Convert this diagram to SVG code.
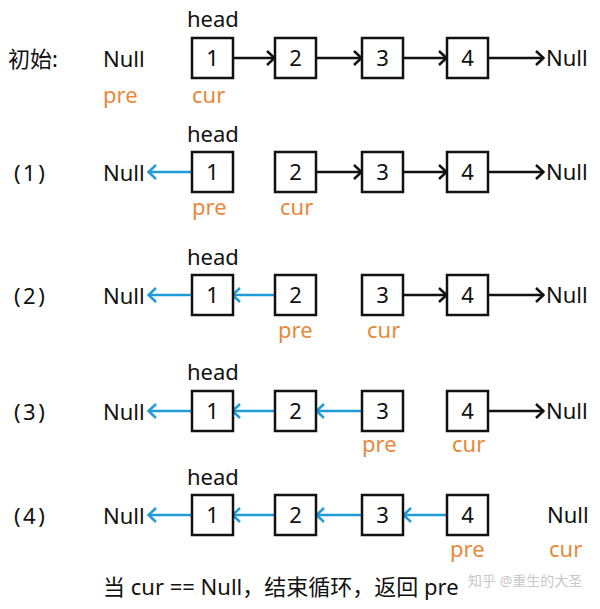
<svg xmlns="http://www.w3.org/2000/svg" width="600" height="609" viewBox="0 0 600 609">
<style>
text{font-family:"Noto Sans","Noto Sans CJK SC",sans-serif;font-size:22px;fill:#111}
.num{text-anchor:middle}
.or{fill:#E8883A}
.rl{letter-spacing:2.5px}
.box{fill:#fff;stroke:#111;stroke-width:2.5}
.k{stroke:#111;stroke-width:2.5;fill:none}
.b{stroke:#1F9BD7;stroke-width:2.5;fill:none}
.wm{fill:#c8c8c8;font-size:14px}
</style>
<defs>
<marker id="ak" viewBox="0 0 12 16" refX="11" refY="8" markerWidth="12" markerHeight="16" markerUnits="userSpaceOnUse" orient="auto"><path d="M3,1 L10.5,8 L3,15" fill="none" stroke="#111" stroke-width="2.5"/></marker>
<marker id="abl" viewBox="0 0 12 16" refX="11" refY="8" markerWidth="12" markerHeight="16" markerUnits="userSpaceOnUse" orient="auto"><path d="M3,1 L10.5,8 L3,15" fill="none" stroke="#1F9BD7" stroke-width="2.5"/></marker>
<rect id="bx" width="41" height="40" class="box"/>
</defs>
<rect width="600" height="609" fill="#fff"/>
<g id="labels">
<text x="8" y="67" font-size="23">初始:</text>
<text class="rl" x="14" y="181">(1)</text>
<text class="rl" x="14" y="304">(2)</text>
<text class="rl" x="14" y="420">(3)</text>
<text class="rl" x="14" y="524">(4)</text>
<text x="103" y="595" font-size="23.5">当 cur == Null，结束循环，返回 pre</text>
<text class="wm" x="468" y="586">知乎 @重生的大圣</text>
</g>
<g id="connectors">
<line class="k" x1="232" y1="58" x2="275" y2="58" marker-end="url(#ak)"/>
<line class="k" x1="316" y1="58" x2="362" y2="58" marker-end="url(#ak)"/>
<line class="k" x1="403" y1="58" x2="447" y2="58" marker-end="url(#ak)"/>
<line class="k" x1="488" y1="58" x2="544" y2="58" marker-end="url(#ak)"/>
<line class="b" x1="192" y1="172" x2="148" y2="172" marker-end="url(#abl)"/>
<line class="k" x1="316" y1="172" x2="362" y2="172" marker-end="url(#ak)"/>
<line class="k" x1="403" y1="172" x2="447" y2="172" marker-end="url(#ak)"/>
<line class="k" x1="488" y1="172" x2="544" y2="172" marker-end="url(#ak)"/>
<line class="b" x1="192" y1="295" x2="148" y2="295" marker-end="url(#abl)"/>
<line class="b" x1="275" y1="295" x2="232" y2="295" marker-end="url(#abl)"/>
<line class="k" x1="403" y1="295" x2="447" y2="295" marker-end="url(#ak)"/>
<line class="k" x1="488" y1="295" x2="544" y2="295" marker-end="url(#ak)"/>
<line class="b" x1="192" y1="411" x2="148" y2="411" marker-end="url(#abl)"/>
<line class="b" x1="275" y1="411" x2="232" y2="411" marker-end="url(#abl)"/>
<line class="b" x1="362" y1="411" x2="316" y2="411" marker-end="url(#abl)"/>
<line class="k" x1="488" y1="411" x2="544" y2="411" marker-end="url(#ak)"/>
<line class="b" x1="192" y1="515" x2="148" y2="515" marker-end="url(#abl)"/>
<line class="b" x1="275" y1="515" x2="232" y2="515" marker-end="url(#abl)"/>
<line class="b" x1="362" y1="515" x2="316" y2="515" marker-end="url(#abl)"/>
<line class="b" x1="447" y1="515" x2="403" y2="515" marker-end="url(#abl)"/>
</g>
<g id="row0">
<text x="187" y="27">head</text>
<text x="103" y="67">Null</text>
<text x="546" y="66">Null</text>
<text class="or" x="103" y="103">pre</text>
<text class="or" x="192" y="103">cur</text>
<g id="r0n1"><use href="#bx" x="192" y="38"/><text class="num" x="212.5" y="66">1</text></g>
<g id="r0n2"><use href="#bx" x="275" y="38"/><text class="num" x="295.5" y="66">2</text></g>
<g id="r0n3"><use href="#bx" x="362" y="38"/><text class="num" x="382.5" y="66">3</text></g>
<g id="r0n4"><use href="#bx" x="447" y="38"/><text class="num" x="467.5" y="66">4</text></g>
</g>
<g id="row1">
<text x="187" y="142">head</text>
<text x="103" y="181">Null</text>
<text x="546" y="180">Null</text>
<text class="or" x="192" y="215">pre</text>
<text class="or" x="280" y="215">cur</text>
<g id="r1n1"><use href="#bx" x="192" y="152"/><text class="num" x="212.5" y="180">1</text></g>
<g id="r1n2"><use href="#bx" x="275" y="152"/><text class="num" x="295.5" y="180">2</text></g>
<g id="r1n3"><use href="#bx" x="362" y="152"/><text class="num" x="382.5" y="180">3</text></g>
<g id="r1n4"><use href="#bx" x="447" y="152"/><text class="num" x="467.5" y="180">4</text></g>
</g>
<g id="row2">
<text x="187" y="265">head</text>
<text x="103" y="304">Null</text>
<text x="546" y="303">Null</text>
<text class="or" x="278" y="338">pre</text>
<text class="or" x="367" y="338">cur</text>
<g id="r2n1"><use href="#bx" x="192" y="275"/><text class="num" x="212.5" y="303">1</text></g>
<g id="r2n2"><use href="#bx" x="275" y="275"/><text class="num" x="295.5" y="303">2</text></g>
<g id="r2n3"><use href="#bx" x="362" y="275"/><text class="num" x="382.5" y="303">3</text></g>
<g id="r2n4"><use href="#bx" x="447" y="275"/><text class="num" x="467.5" y="303">4</text></g>
</g>
<g id="row3">
<text x="187" y="380">head</text>
<text x="103" y="420">Null</text>
<text x="546" y="419">Null</text>
<text class="or" x="362" y="452">pre</text>
<text class="or" x="452" y="452">cur</text>
<g id="r3n1"><use href="#bx" x="192" y="391"/><text class="num" x="212.5" y="419">1</text></g>
<g id="r3n2"><use href="#bx" x="275" y="391"/><text class="num" x="295.5" y="419">2</text></g>
<g id="r3n3"><use href="#bx" x="362" y="391"/><text class="num" x="382.5" y="419">3</text></g>
<g id="r3n4"><use href="#bx" x="447" y="391"/><text class="num" x="467.5" y="419">4</text></g>
</g>
<g id="row4">
<text x="187" y="485">head</text>
<text x="103" y="524">Null</text>
<text x="547" y="523">Null</text>
<text class="or" x="450" y="557">pre</text>
<text class="or" x="549" y="557">cur</text>
<g id="r4n1"><use href="#bx" x="192" y="495"/><text class="num" x="212.5" y="523">1</text></g>
<g id="r4n2"><use href="#bx" x="275" y="495"/><text class="num" x="295.5" y="523">2</text></g>
<g id="r4n3"><use href="#bx" x="362" y="495"/><text class="num" x="382.5" y="523">3</text></g>
<g id="r4n4"><use href="#bx" x="447" y="495"/><text class="num" x="467.5" y="523">4</text></g>
</g>
</svg>
